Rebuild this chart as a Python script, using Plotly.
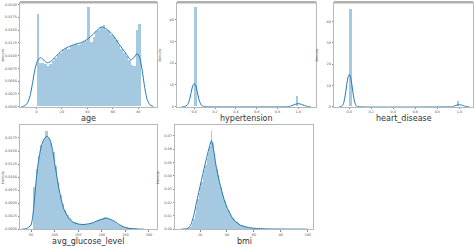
import plotly.graph_objects as go

W, H = 474, 247

# ---------------- data ----------------
age_bin_left = [0, 2, 4, 6, 8, 10, 12, 14, 16, 18, 20, 22, 24, 26, 28, 30, 32, 34, 36, 38, 40,
                42, 44, 46, 48, 50, 52, 54, 56, 58, 60, 62, 64, 66, 68, 70, 72, 74, 76, 78, 80]
age_hist = [0.0181, 0.0085, 0.0085, 0.0083, 0.0078, 0.0082, 0.0088, 0.0095, 0.0100, 0.0105, 0.0110,
            0.0113, 0.0112, 0.0118, 0.0120, 0.0122, 0.0120, 0.0122, 0.0125, 0.0128, 0.0194,
            0.0125, 0.0135, 0.0148, 0.0150, 0.0155, 0.0158, 0.0150, 0.0148, 0.0140, 0.0135,
            0.0130, 0.0120, 0.0112, 0.0105, 0.0098, 0.0090, 0.0080, 0.0078, 0.0149, 0.0160]
age_kde_x = [-12, -9, -7, -5, -3, -1, 1, 3, 5, 8, 11, 15, 20, 25, 30, 35, 40, 45, 50, 52, 55, 60,
             65, 70, 74, 77, 79, 81, 83, 85, 87, 89, 92]
age_kde_y = [0.0, 0.0002, 0.0008, 0.0022, 0.0048, 0.0076, 0.0091, 0.0096, 0.0093, 0.0086, 0.0088,
             0.0098, 0.0110, 0.0117, 0.0122, 0.0125, 0.0132, 0.0143, 0.0155, 0.0156, 0.0152, 0.0140,
             0.0122, 0.0105, 0.0092, 0.0097, 0.0104, 0.0097, 0.0072, 0.0038, 0.0014, 0.0004, 0.0]

hyp_bin_left = [0.0, 0.975]
hyp_hist = [45.6, 4.8]
hyp_kde_x = [-0.12, -0.09, -0.07, -0.05, -0.03, -0.015, 0.0, 0.015, 0.03, 0.05, 0.07, 0.09, 0.12,
             0.88, 0.91, 0.94, 0.97, 1.0, 1.03, 1.06, 1.09, 1.12]
hyp_kde_y = [0.0, 0.1, 0.6, 2.5, 6.5, 9.6, 10.6, 9.6, 6.5, 2.5, 0.6, 0.1, 0.0,
             0.0, 0.1, 0.5, 1.1, 1.4, 1.1, 0.5, 0.1, 0.0]

hd_bin_left = [0.0, 0.975]
hd_hist = [45.8, 2.5]
hd_kde_x = [-0.09, -0.065, -0.05, -0.035, -0.02, -0.01, 0.0, 0.01, 0.02, 0.035, 0.05, 0.065, 0.09,
            0.91, 0.94, 0.96, 0.98, 1.0, 1.02, 1.04, 1.06, 1.09]
hd_kde_y = [0.0, 0.3, 2.0, 6.0, 11.5, 14.2, 15.1, 14.2, 11.5, 6.0, 2.0, 0.3, 0.0,
            0.0, 0.1, 0.4, 0.8, 0.9, 0.8, 0.4, 0.1, 0.0]

glu_bin_left = [55, 60, 65, 70, 75, 80, 85, 90, 95, 100, 105, 110, 115, 120, 125, 130, 135, 140,
                145, 150, 155, 160, 165, 170, 175, 180, 185, 190, 195, 200, 205, 210, 215, 220,
                225, 230, 235, 240, 245, 250, 255, 260, 265, 270]
glu_hist = [0.0080, 0.0115, 0.0140, 0.0160, 0.0172, 0.0188, 0.0175, 0.0165, 0.0148, 0.0120, 0.0090,
            0.0065, 0.0047, 0.0035, 0.0027, 0.0020, 0.0015, 0.0013, 0.0011, 0.0010, 0.0009, 0.0009,
            0.0009, 0.0010, 0.0011, 0.0013, 0.0015, 0.0017, 0.0019, 0.0020, 0.0022, 0.0021, 0.0019,
            0.0017, 0.0013, 0.0010, 0.0007, 0.0005, 0.0004, 0.0003, 0.0002, 0.0001, 0.0001, 0.0001]
glu_kde_x = [30, 40, 50, 55, 60, 65, 70, 75, 80, 85, 90, 95, 100, 105, 110, 115, 120, 130, 140,
             150, 160, 170, 180, 190, 200, 210, 215, 225, 235, 245, 255, 270, 290]
glu_kde_y = [0.0, 0.0001, 0.0008, 0.0035, 0.0085, 0.0125, 0.0152, 0.0168, 0.0176, 0.0178, 0.0172,
             0.0155, 0.0128, 0.0100, 0.0074, 0.0053, 0.0038, 0.0021, 0.0013, 0.0010, 0.0009, 0.0010,
             0.0012, 0.0016, 0.0019, 0.0021, 0.0020, 0.0016, 0.0010, 0.0005, 0.0002, 0.00005, 0.0]

bmi_bin_left = list(range(10, 60))
bmi_hist = [0.0002, 0.0005, 0.0010, 0.0020, 0.0040, 0.0070, 0.0110, 0.0160, 0.0220, 0.0270,
            0.0310, 0.0350, 0.0400, 0.0440, 0.0480, 0.0530, 0.0570, 0.0620, 0.0730, 0.0640,
            0.0560, 0.0500, 0.0450, 0.0400, 0.0350, 0.0310, 0.0270, 0.0240, 0.0210, 0.0180,
            0.0150, 0.0130, 0.0110, 0.0095, 0.0080, 0.0070, 0.0060, 0.0050, 0.0042, 0.0035,
            0.0030, 0.0025, 0.0020, 0.0017, 0.0014, 0.0012, 0.0010, 0.0008, 0.0007, 0.0006]
bmi_kde_x = [6, 9, 11, 13, 15, 18, 20, 22, 25, 27, 28.5, 30, 32, 35, 38, 40, 45, 50, 55, 60,
             70, 80, 90, 100]
bmi_kde_y = [0.0, 0.0002, 0.0008, 0.0030, 0.0090, 0.0230, 0.0320, 0.0410, 0.0540, 0.0620, 0.0665,
             0.0600, 0.0470, 0.0330, 0.0220, 0.0165, 0.0070, 0.0030, 0.0015, 0.0007, 0.0002,
             0.0001, 0.00005, 0.0]

labels = ["age", "hypertension", "heart_disease", "avg_glucose_level", "bmi"]

# ---------------- layout helpers ----------------
def px_x(p):
    return p / W

def px_y(p):
    return 1 - p / H

panels = [
    ((20, 157), (2.5, 107), [-13, 94.7], [0, 0.0202], [0, 20, 40, 60, 80],
     [0, 0.0025, 0.005, 0.0075, 0.01, 0.0125, 0.015, 0.0175, 0.02], "d", ".4f",
     age_bin_left, age_hist, 2, age_kde_x, age_kde_y),
    ((177, 316), (2.5, 107), [-0.166, 1.17], [0, 47.5], [0, 0.2, 0.4, 0.6, 0.8, 1.0],
     [0, 10, 20, 30, 40], ".1f", "d",
     hyp_bin_left, hyp_hist, 0.025, hyp_kde_x, hyp_kde_y),
    ((334, 473), (2.5, 107), [-0.139, 1.124], [0, 48.4], [0, 0.2, 0.4, 0.6, 0.8, 1.0],
     [0, 10, 20, 30, 40, 50], ".1f", "d",
     hd_bin_left, hd_hist, 0.025, hd_kde_x, hd_kde_y),
    ((20, 157), (126, 231), [26.7, 317], [0, 0.0199], [50, 100, 150, 200, 250, 300],
     [0, 0.0025, 0.005, 0.0075, 0.01, 0.0125, 0.015, 0.0175], "d", ".4f",
     glu_bin_left, glu_hist, 5, glu_kde_x, glu_kde_y),
    ((175, 313), (126, 231), [1.4, 103.9], [0, 0.0778], [20, 40, 60, 80, 100],
     [0, 0.01, 0.02, 0.03, 0.04, 0.05, 0.06, 0.07], "d", ".2f",
     bmi_bin_left, bmi_hist, 1, bmi_kde_x, bmi_kde_y),
]

BAR = "rgba(31,119,180,0.4)"
LINE = "#1f77b4"
FRAME = "#b8b8b8"
TICKC = "#555555"

fig = go.Figure()
layout = dict(
    width=W, height=H, margin=dict(l=0, r=0, t=0, b=0),
    paper_bgcolor="white", plot_bgcolor="white", showlegend=False,
    font=dict(family="DejaVu Sans", color=TICKC), bargap=0,
)
annotations = []
shapes = []

for i, (xd, yd, xr, yr, xt, yt, xf, yf, bl, hv, bw, kx, ky) in enumerate(panels):
    n = "" if i == 0 else str(i + 1)
    xa, ya = "x" + n, "y" + n
    centers = [b + bw / 2 for b in bl]
    fig.add_trace(go.Bar(x=centers, y=hv, width=bw, marker=dict(color=BAR, line=dict(width=0)),
                         xaxis=xa, yaxis=ya, hoverinfo="skip"))
    fig.add_trace(go.Scatter(x=kx, y=ky, mode="lines",
                             line=dict(color=LINE, width=1, shape="spline", smoothing=0.6),
                             xaxis=xa, yaxis=ya, hoverinfo="skip"))
    ax_common = dict(showgrid=False, zeroline=False, showline=True, linecolor=FRAME, linewidth=1,
                     mirror=True, ticks="outside", ticklen=1.5, tickwidth=0.6, tickcolor="#888",
                     tickfont=dict(size=3.4, color=TICKC, family="DejaVu Sans"), fixedrange=True)
    layout["xaxis" + n] = dict(ax_common, domain=[px_x(xd[0]), px_x(xd[1])], range=xr,
                               tickmode="array", tickvals=xt,
                               ticktext=[format(v, xf) if xf != "d" else str(int(v)) for v in xt],
                               anchor=ya)
    layout["yaxis" + n] = dict(ax_common, domain=[px_y(yd[1]), px_y(yd[0])], range=yr,
                               tickmode="array", tickvals=yt,
                               ticktext=[format(v, yf) if yf != "d" else str(int(v)) for v in yt],
                               anchor=xa)
    cx = (xd[0] + xd[1]) / 2
    annotations.append(dict(text=labels[i], x=px_x(cx), y=px_y(yd[1] + 6.5), xref="paper",
                            yref="paper", showarrow=False, xanchor="center", yanchor="top",
                            borderpad=0,
                            font=dict(size=8, color="#333333", family="DejaVu Sans")))
    annotations.append(dict(text="Density", x=px_x(xd[0] - 16.5), y=px_y((yd[0] + yd[1]) / 2),
                            xref="paper", yref="paper", showarrow=False, textangle=-90,
                            xanchor="center", yanchor="middle",
                            font=dict(size=3.4, color=TICKC, family="DejaVu Sans")))
    if i < 3:
        shapes.append(dict(type="rect", xref="paper", yref="paper", x0=px_x(xd[0]), x1=px_x(xd[1]),
                           y0=px_y(2.5), y1=1, fillcolor="#b0b0b0", line=dict(width=0)))

layout["annotations"] = annotations
layout["shapes"] = shapes
fig.update_layout(**layout)
fig.write_html("out.html")
